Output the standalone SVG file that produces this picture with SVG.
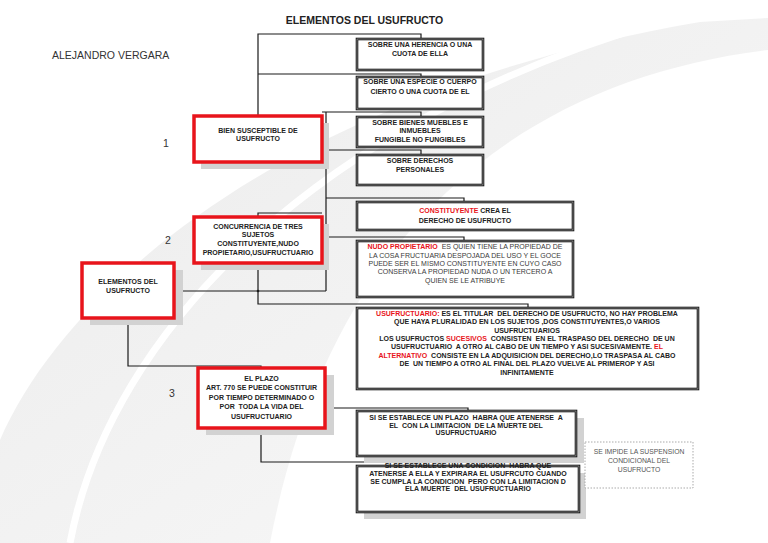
<svg xmlns="http://www.w3.org/2000/svg" width="768" height="543" viewBox="0 0 768 543">
<defs>
<linearGradient id="bg" x1="0" y1="0" x2="1" y2="1">
<stop offset="0" stop-color="#ebebeb"/>
<stop offset="1" stop-color="#f9f9f9"/>
</linearGradient>
<style>
text{font-family:"Liberation Sans",Arial,sans-serif;}
.t{font-size:7px;font-weight:bold;fill:#222;text-anchor:middle;}
.r{fill:#e8141b;}
.n{font-size:7px;fill:#3a3a3a;text-anchor:middle;}
.red{fill:#fff;stroke:#e8141b;stroke-width:3.5;}
.sh{fill:#d2d2d2;}
.bo{fill:#fff;stroke:#111;stroke-width:2.6;}
.bi{fill:none;stroke:#9a9a9a;stroke-width:0.8;}
.c{fill:none;stroke:#1a1a1a;stroke-width:1.2;}
.num{font-size:10.5px;fill:#333;}
</style>
</defs>
<rect width="768" height="543" fill="#fff"/>
<path d="M0 543 L0 440 C70 280 300 90 700 22 L768 18 L768 50 C520 80 330 230 270 543 Z" fill="url(#bg)"/>
<path d="M70 543 C110 330 320 120 660 22" fill="none" stroke="#ffffff" stroke-width="7"/>

<text x="364.5" y="24" font-size="10.5" font-weight="bold" fill="#222" text-anchor="middle">ELEMENTOS DEL USUFRUCTO</text>
<text x="52" y="58.5" font-size="10.5" fill="#333">ALEJANDRO VERGARA</text>
<text class="num" x="163" y="146.5">1</text>
<text class="num" x="165" y="244">2</text>
<text class="num" x="169" y="397">3</text>

<g id="connectors">
<path class="c" d="M258 116 V34 H421 V39"/>
<path class="c" d="M258 74 H421 V77"/>
<path class="c" d="M258 162 V166 H326"/>
<path class="c" d="M326 112 V291"/>
<path class="c" d="M322 112 H421 V117"/>
<path class="c" d="M322 150 H421 V155"/>
<path class="c" d="M326 198 H464 V202"/>
<path class="c" d="M322 237 H464 V241"/>
<path class="c" d="M258 217 V213 H322" stroke="#666"/>
<path class="c" d="M174 291 H326"/>
<path class="c" d="M258 263 V304 H528 V308"/>
<circle cx="258" cy="291" r="1.3" fill="#1a1a1a"/>
<path class="c" d="M128 318 V366 H261 V368"/>
<path class="c" d="M325 422 H330 V408 H468 V411"/>
<path class="c" d="M261 428 V462 H468 V466"/>
</g>

<g id="n1">
<rect class="sh" x="201" y="123" width="128" height="46"/>
<rect class="red" x="194" y="116" width="128" height="46"/>
<text class="t" x="258" y="132.5">BIEN SUSCEPTIBLE DE</text>
<text class="t" x="258" y="141">USUFRUCTO</text>
</g>

<g id="n2">
<rect class="sh" x="201" y="224" width="128" height="46"/>
<rect class="red" x="194" y="217" width="128" height="46"/>
<text class="t" x="258" y="229">CONCURRENCIA DE TRES</text>
<text class="t" x="258" y="237">SUJETOS</text>
<text class="t" x="258" y="246">CONSTITUYENTE,NUDO</text>
<text class="t" x="258" y="255">PROPIETARIO,USUFRUCTUARIO</text>
</g>

<g id="n0">
<rect class="sh" x="90" y="270" width="93" height="55"/>
<rect class="red" x="82" y="263" width="92" height="55"/>
<text class="t" x="128" y="284">ELEMENTOS DEL</text>
<text class="t" x="128" y="293">USUFRUCTO</text>
</g>

<g id="n3">
<rect class="sh" x="206" y="375" width="128" height="60"/>
<rect class="red" x="198" y="368" width="127" height="60"/>
<text class="t" x="261.5" y="381">EL PLAZO</text>
<text class="t" x="261.5" y="390">ART. 770 SE PUEDE CONSTITUIR</text>
<text class="t" x="261.5" y="400">POR TIEMPO DETERMINADO O</text>
<text class="t" x="261.5" y="409" xml:space="preserve">POR  TODA LA VIDA DEL</text>
<text class="t" x="261.5" y="418.5">USUFRUCTUARIO</text>
</g>

<g id="b1">
<rect class="bo" x="357" y="39" width="126" height="31"/>
<rect class="bi" x="357" y="39" width="126" height="31"/>
<text class="t" x="420" y="47">SOBRE UNA HERENCIA O UNA</text>
<text class="t" x="420" y="56">CUOTA DE ELLA</text>
</g>

<g id="b2">
<rect class="bo" x="357" y="77" width="126" height="32"/>
<rect class="bi" x="357" y="77" width="126" height="32"/>
<text class="t" x="420" y="84">SOBRE UNA ESPECIE O CUERPO</text>
<text class="t" x="420" y="94">CIERTO O UNA CUOTA DE EL</text>
</g>

<g id="b3">
<rect class="bo" x="357" y="117" width="126" height="30"/>
<rect class="bi" x="357" y="117" width="126" height="30"/>
<text class="t" x="420" y="125">SOBRE BIENES MUEBLES E</text>
<text class="t" x="420" y="133">INMUEBLES</text>
<text class="t" x="420" y="141.5">FUNGIBLE NO FUNGIBLES</text>
</g>

<g id="b4">
<rect class="bo" x="357" y="155" width="126" height="30"/>
<rect class="bi" x="357" y="155" width="126" height="30"/>
<text class="t" x="420" y="163">SOBRE DERECHOS</text>
<text class="t" x="420" y="172">PERSONALES</text>
</g>

<g id="b5">
<rect class="bo" x="357" y="202" width="216" height="28"/>
<rect class="bi" x="357" y="202" width="216" height="28"/>
<text class="t" x="465" y="213"><tspan class="r">CONSTITUYENTE</tspan> CREA EL</text>
<text class="t" x="465" y="222.5">DERECHO DE USUFRUCTO</text>
</g>

<g id="b6">
<rect class="bo" x="357" y="241" width="216" height="56"/>
<rect class="bi" x="357" y="241" width="216" height="56"/>
<text class="n" x="465" y="249" xml:space="preserve"><tspan class="r" font-weight="bold">NUDO PROPIETARIO</tspan>  ES QUIEN TIENE LA PROPIEDAD DE</text>
<text class="n" x="465" y="257.5">LA COSA FRUCTUARIA DESPOJADA DEL USO Y EL GOCE</text>
<text class="n" x="465" y="266">PUEDE SER EL MISMO CONSTITUYENTE EN CUYO CASO</text>
<text class="n" x="465" y="274">CONSERVA LA PROPIEDAD NUDA O UN TERCERO A</text>
<text class="n" x="465" y="282.5">QUIEN SE LE ATRIBUYE</text>
</g>

<g id="b7">
<rect class="bo" x="357" y="308" width="341" height="81"/>
<rect class="bi" x="357" y="308" width="341" height="81"/>
<text class="t" x="527" y="316" xml:space="preserve"><tspan class="r">USUFRUCTUARIO:</tspan> ES EL TITULAR  DEL DERECHO DE USUFRUCTO, NO HAY PROBLEMA</text>
<text class="t" x="527" y="324">QUE HAYA PLURALIDAD EN LOS SUJETOS ,DOS CONSTITUYENTES,O VARIOS</text>
<text class="t" x="527" y="332.5">USUFRUCTUARIOS</text>
<text class="t" x="527" y="341" xml:space="preserve">LOS USUFRUCTOS <tspan class="r">SUCESIVOS</tspan>  CONSISTEN  EN EL TRASPASO DEL DERECHO  DE UN</text>
<text class="t" x="527" y="349" xml:space="preserve">USUFRUCTUARIO  A OTRO AL CABO DE UN TIEMPO Y ASI SUCESIVAMENTE. <tspan class="r">EL</tspan></text>
<text class="t" x="527" y="357.5" xml:space="preserve"><tspan class="r">ALTERNATIVO</tspan>  CONSISTE EN LA ADQUISICION DEL DERECHO,LO TRASPASA AL CABO</text>
<text class="t" x="527" y="366" xml:space="preserve">DE  UN TIEMPO A OTRO AL FINAL DEL PLAZO VUELVE AL PRIMEROP Y ASI</text>
<text class="t" x="527" y="374.5">INFINITAMENTE</text>
</g>

<g id="b8">
<rect class="sh" x="364" y="418" width="220" height="45"/>
<rect class="bo" x="357" y="411" width="219" height="45"/>
<rect class="bi" x="357" y="411" width="219" height="45"/>
<text class="t" x="466" y="420" xml:space="preserve">SI SE ESTABLECE UN PLAZO  HABRA QUE ATENERSE  A</text>
<text class="t" x="466" y="427.5" xml:space="preserve">EL  CON LA LIMITACION  DE LA MUERTE DEL</text>
<text class="t" x="466" y="435">USUFRUCTUARIO</text>
</g>

<g id="b9">
<rect class="sh" x="364" y="473" width="222" height="46"/>
<rect class="bo" x="357" y="466" width="222" height="46"/>
<rect class="bi" x="357" y="466" width="222" height="46"/>
<text class="t" x="468" y="467.5" xml:space="preserve">SI SE ESTABLECE UNA CONDICION  HABRA QUE</text>
<text class="t" x="468" y="475.5">ATENERSE A ELLA Y EXPIRARA EL USUFRCUTO CUANDO</text>
<text class="t" x="468" y="483.5" xml:space="preserve">SE CUMPLA LA CONDICION  PERO CON LA LIMITACION D</text>
<text class="t" x="468" y="491" xml:space="preserve">ELA MUERTE  DEL USUFRUCTUARIO</text>
</g>

<g id="b10">
<rect x="585" y="442" width="108" height="46" fill="#fff" stroke="#aaa" stroke-width="1" stroke-dasharray="1.5,1.5"/>
<text x="639" y="453.5" font-size="6.8" fill="#555" text-anchor="middle">SE IMPIDE LA SUSPENSION</text>
<text x="639" y="462.5" font-size="6.8" fill="#555" text-anchor="middle">CONDICIONAL DEL</text>
<text x="639" y="471.5" font-size="6.8" fill="#555" text-anchor="middle">USUFRUCTO</text>
</g>
</svg>
